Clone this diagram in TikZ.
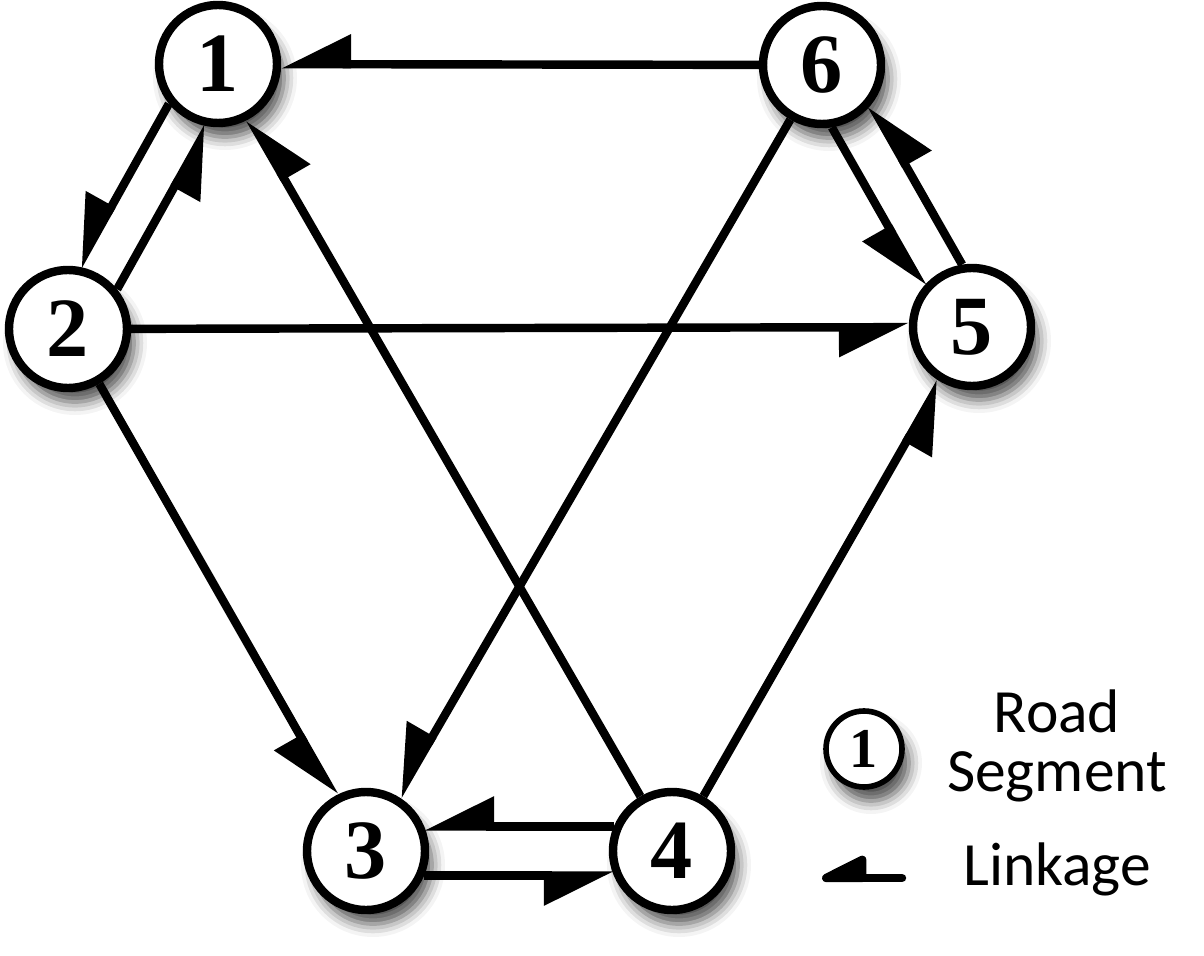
\documentclass[tikz,border=0pt]{standalone}
\usepackage{fontspec}
\setmainfont{Liberation Serif}
\newfontfamily\legendfont{Carlito}
\usetikzlibrary{
    arrows.meta,
    shadows.blur
}

\begin{document}
\begin{tikzpicture}[x=0.02cm, y=-0.02cm,
    seg/.style={circle, draw, fill=white, line width=4.8pt, minimum size=2.36cm, inner sep=0pt,
        font=\fontsize{48}{48}\selectfont\bfseries,
        blur shadow={shadow xshift=0.14cm, shadow yshift=-0.28cm, shadow blur radius=0.26cm, shadow opacity=70}},
    link/.style={line width=4.8pt, -{Triangle[right, length=1.22cm, width=1.16cm]}}]
    \useasboundingbox (0, 0) rectangle (1204, 956);
    \node[seg] (s1) at (218, 64) {1};
    \node[seg] (s2) at (68, 329) {2};
    \node[seg] (s3) at (366, 851) {3};
    \node[seg] (s4) at (672, 851) {4};
    \node[seg] (s5) at (972, 327) {5};
    \node[seg] (s6) at (822, 65) {6};
    % legend
    \node[seg, line width=3.2pt, minimum size=1.52cm, font=\fontsize{32}{32}\selectfont\bfseries] (key) at (864, 749) {1};
    \node[font=\legendfont\fontsize{35}{34}\selectfont, align=center] (keyseg) at (1057, 746) {Road\\Segment};
    \node[font=\legendfont\fontsize{35}{34}\selectfont, anchor=base] (keylink) at (1057, 885) {Linkage};
    \coordinate (lkfrom) at (902, 878);
    \coordinate (lkto) at (822, 878);
    \draw
    (s6) edge[link] (s1)
    (s1.219) edge[link] (s2.81)
    (s2.39) edge[link] (s1.261)
    (s2) edge[link] (s5)
    (s2) edge[link] (s3)
    (s4) edge[link] (s1)
    (s6) edge[link] (s3)
    (s4) edge[link] (s5)
    (s6.279) edge[link] (s5.141)
    (s5.99) edge[link] (s6.321)
    (s4.157) edge[link] (s3.23)
    (s3.-23) edge[link] (s4.-157);
    \draw[line width=4.8pt, line cap=round, -{Triangle[right, round, length=1.0cm, width=0.95cm]}] (lkfrom) -- (lkto);
\end{tikzpicture}
\end{document}
